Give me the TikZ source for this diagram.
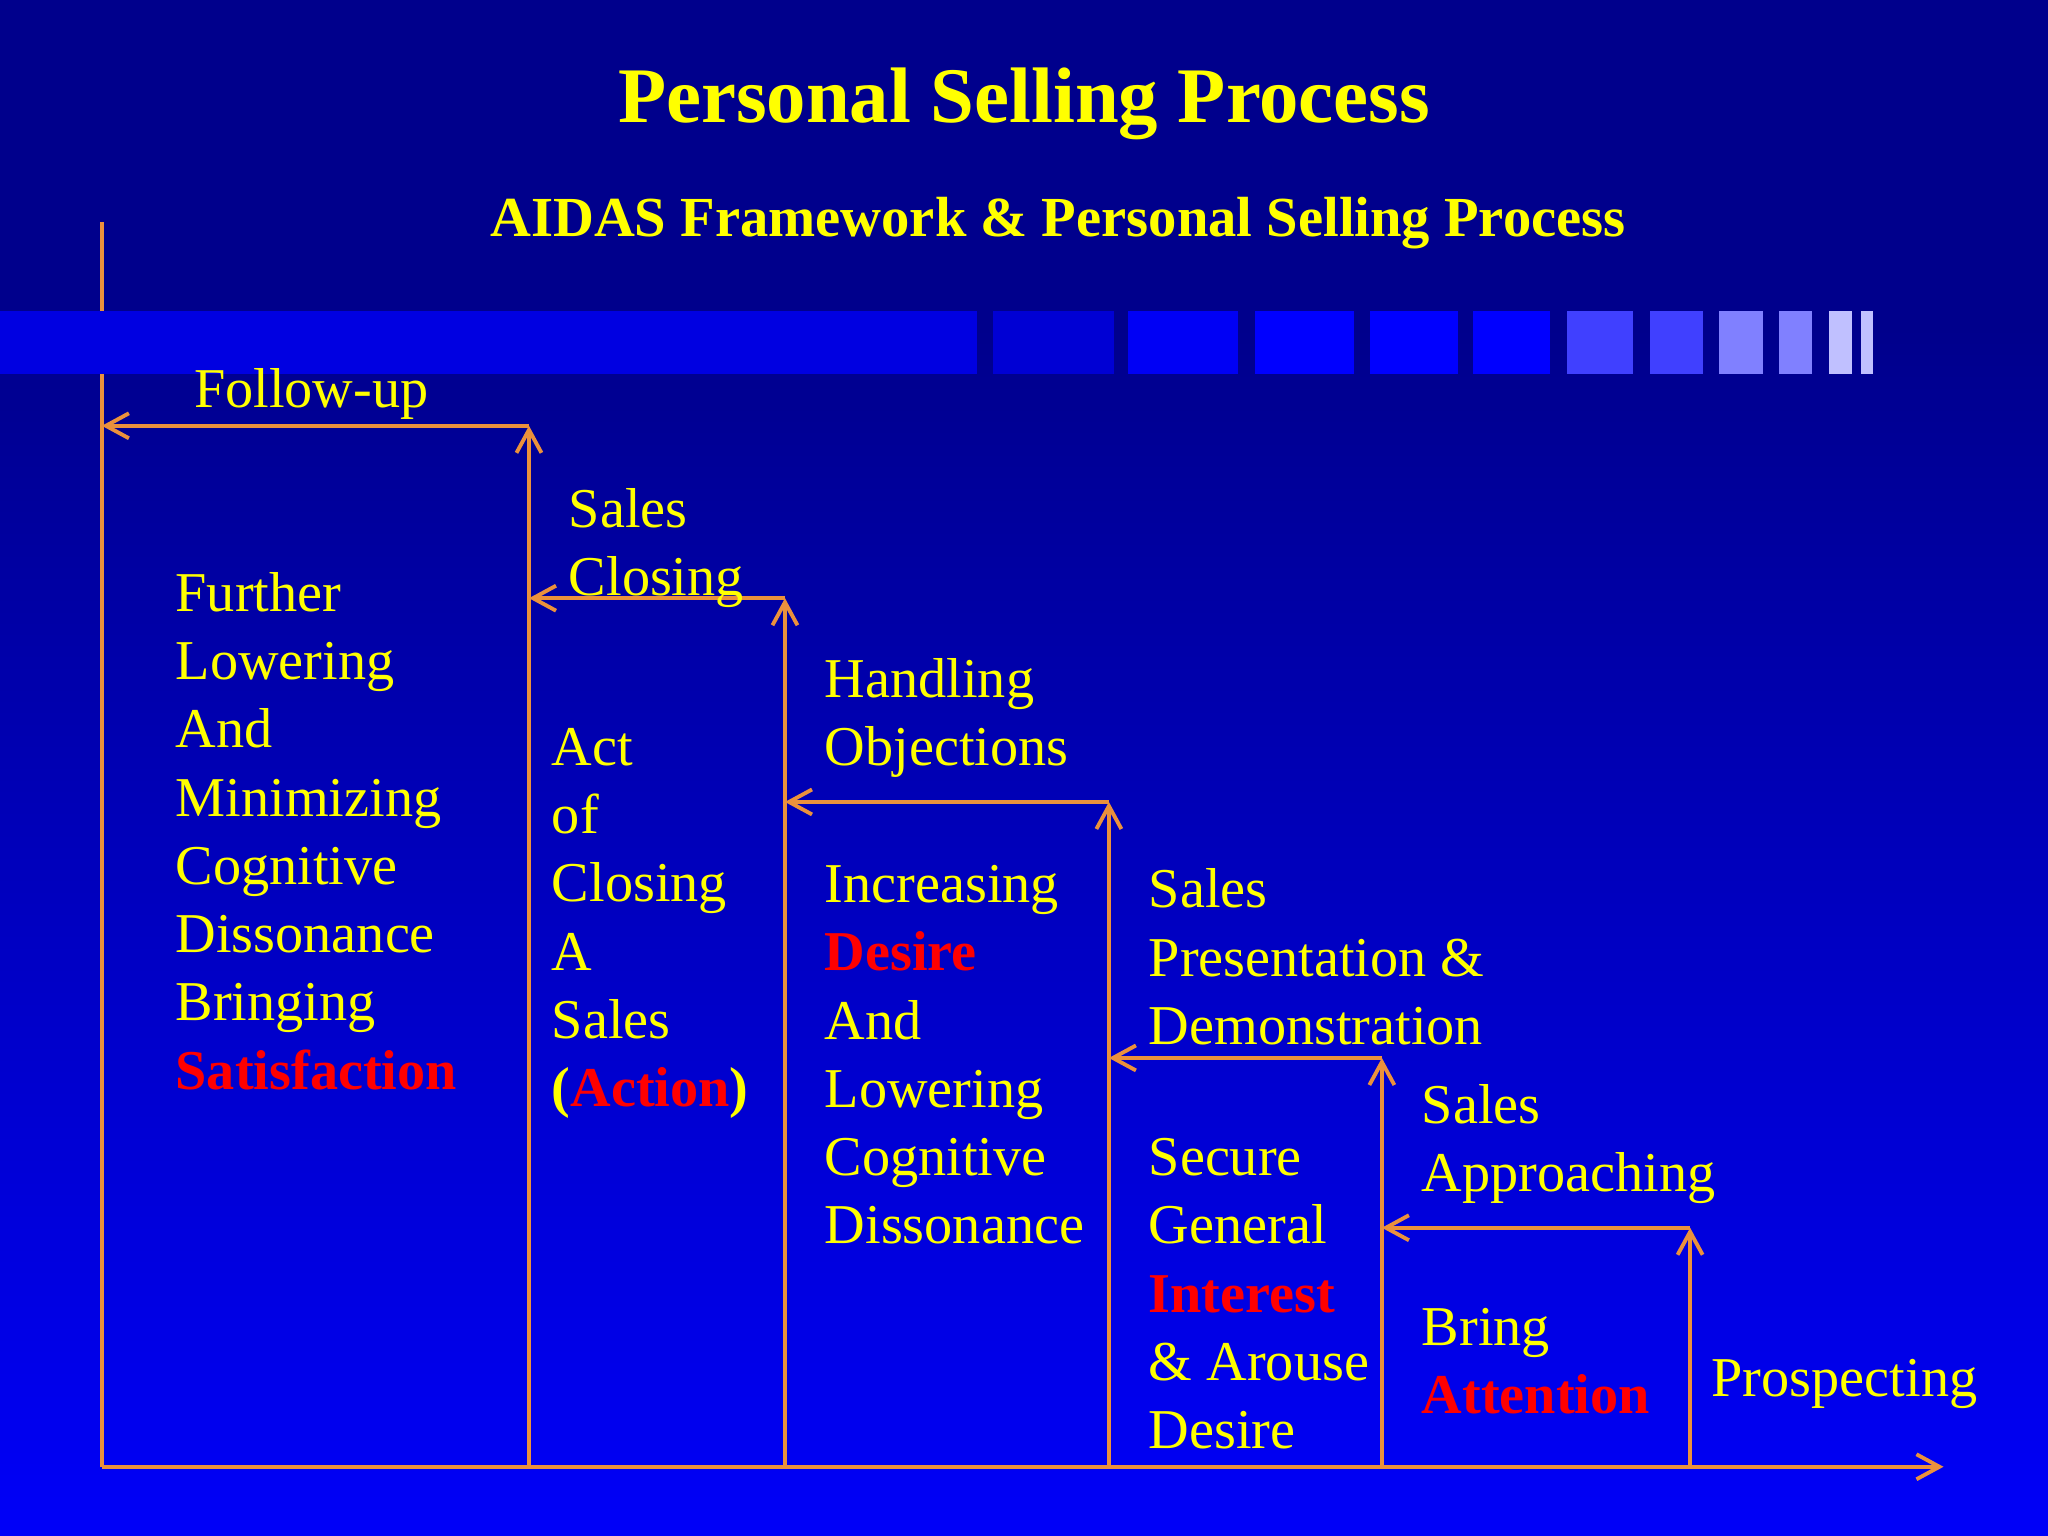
\documentclass[tikz,border=0pt]{standalone}
\usepackage{fontspec}
\setmainfont{Liberation Serif}
\usetikzlibrary{arrows.meta}
\definecolor{navy}{RGB}{0,0,140}
\definecolor{botblue}{RGB}{0,0,248}
\definecolor{bandA}{RGB}{0,0,225}
\definecolor{bandB}{RGB}{0,0,212}
\definecolor{bandC}{RGB}{0,0,245}
\definecolor{bandD}{RGB}{0,0,255}
\definecolor{bandE}{RGB}{64,64,255}
\definecolor{bandF}{RGB}{128,128,255}
\definecolor{bandG}{RGB}{192,192,255}
\definecolor{lineor}{RGB}{235,145,60}
\definecolor{yel}{RGB}{255,255,0}
\definecolor{redt}{RGB}{255,0,0}
\newcommand{\Lrow}[1]{\hbox{#1}}
\newcommand{\Stack}[1]{\vtop{\baselineskip=19.43pt\lineskiplimit=-20pt\lineskip=0pt #1}}
\newcommand{\Hl}[1]{\textcolor{redt}{\textbf{#1}}}
\begin{document}
\begin{tikzpicture}[x=0.0130612cm,y=-0.0130612cm,
  ln/.style={draw=lineor,line width=1.1pt},
  arr/.style={ln,-{Straight Barb[length=2.3mm,width=2.5mm]}},
  txt/.style={anchor=base west,inner sep=0pt,text=yel,font=\fontsize{16}{19.43}\selectfont},
  ttl/.style={anchor=base,inner sep=0pt,text=yel,font=\bfseries\fontsize{22.4}{26}\selectfont},
  sub/.style={anchor=base,inner sep=0pt,text=yel,font=\bfseries\fontsize{16.1}{19}\selectfont}]
\useasboundingbox (0,0) rectangle (1568,1176);
% background
\fill[navy] (0,0) rectangle (1568,1176);
\shade[top color=navy,bottom color=botblue] (0,250) rectangle (1568,1176);
% titles
\node[ttl] (title) at (784,94) {Personal Selling Process};
\node[sub] (subtitle) at (810,181) {AIDAS Framework \& Personal Selling Process};
% coordinates
\coordinate (O) at (78,1123);
\coordinate (ytop) at (78,170);
\coordinate (xend) at (1488,1123);
\coordinate (b1) at (405,1123); \coordinate (t1) at (405,326); \coordinate (l1) at (78,326);
\coordinate (b2) at (601,1123); \coordinate (t2) at (601,458); \coordinate (l2) at (405,458);
\coordinate (b3) at (849,1123); \coordinate (t3) at (849,614); \coordinate (l3) at (601,614);
\coordinate (b4) at (1058,1123); \coordinate (t4) at (1058,810); \coordinate (l4) at (849,810);
\coordinate (b5) at (1294,1123); \coordinate (t5) at (1294,940); \coordinate (l5) at (1058,940);
% axes
\draw[ln] (ytop) -- (O);
\draw[arr] (O) -- (xend);
% steps
\draw[arr] (b1) -- (t1); \draw[arr] (t1) -- (l1);
\draw[arr] (b2) -- (t2); \draw[arr] (t2) -- (l2);
\draw[arr] (b3) -- (t3); \draw[arr] (t3) -- (l3);
\draw[arr] (b4) -- (t4); \draw[arr] (t4) -- (l4);
\draw[arr] (b5) -- (t5); \draw[arr] (t5) -- (l5);
% band
\fill[bandA] (0,238) rectangle (748,286);
\fill[bandB] (760,238) rectangle (853,286);
\fill[bandC] (864,238) rectangle (948,286);
\fill[bandD] (961,238) rectangle (1037,286);
\fill[bandD] (1049,238) rectangle (1116,286);
\fill[bandD] (1128,238) rectangle (1187,286);
\fill[bandE] (1200,238) rectangle (1250,286);
\fill[bandE] (1263,238) rectangle (1304,286);
\fill[bandF] (1316,238) rectangle (1350,286);
\fill[bandF] (1362,238) rectangle (1387,286);
\fill[bandG] (1400,238) rectangle (1418,286);
\fill[bandG] (1425,238) rectangle (1434,286);
% texts
\node[txt] (followup) at (148,312) {Follow-up};
\node[txt] (further) at (134,468) {\Stack{\Lrow{Further}\Lrow{Lowering}\Lrow{And}\Lrow{Minimizing}\Lrow{Cognitive}\Lrow{Dissonance}\Lrow{Bringing}\Lrow{\Hl{Satisfaction}}}};
\node[txt] (closing) at (435,404) {\Stack{\Lrow{Sales}\Lrow{Closing}}};
\node[txt] (act) at (422,586) {\Stack{\Lrow{Act}\Lrow{of}\Lrow{Closing}\Lrow{A}\Lrow{Sales}\Lrow{\textbf{(}\Hl{Action}\textbf{)}}}};
\node[txt] (handling) at (631,534) {\Stack{\Lrow{Handling}\Lrow{Objections}}};
\node[txt] (increasing) at (631,691) {\Stack{\Lrow{Increasing}\Lrow{\Hl{Desire}}\Lrow{And}\Lrow{Lowering}\Lrow{Cognitive}\Lrow{Dissonance}}};
\node[txt] (presentation) at (879,695) {\Stack{\Lrow{Sales}\Lrow{Presentation \&}\Lrow{Demonstration}}};
\node[txt] (secure) at (879,900) {\Stack{\Lrow{Secure}\Lrow{General}\Lrow{\Hl{Interest}}\Lrow{\& Arouse}\Lrow{Desire}}};
\node[txt] (approaching) at (1088,860) {\Stack{\Lrow{Sales}\Lrow{Approaching}}};
\node[txt] (bring) at (1088,1030) {\Stack{\Lrow{Bring}\Lrow{\Hl{Attention}}}};
\node[txt] (prospecting) at (1310,1069) {Prospecting};
\end{tikzpicture}
\end{document}
